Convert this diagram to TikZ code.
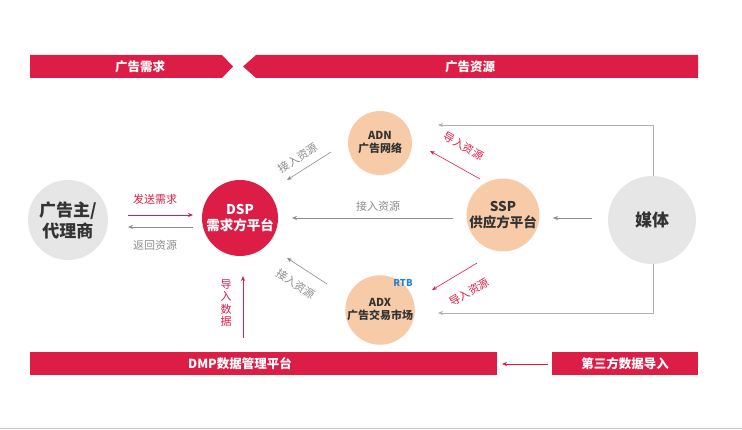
\documentclass[tikz,border=0pt]{standalone}
\usepackage{fontspec}
\setmainfont{Noto Sans CJK SC}
\usetikzlibrary{arrows.meta}
\definecolor{crim}{HTML}{DC1E46}
\definecolor{peach}{HTML}{F8CBA8}
\definecolor{lgray}{HTML}{E6E6E6}
\definecolor{agray}{HTML}{8C8C8C}
\definecolor{dtext}{HTML}{333333}
\begin{document}
\begin{tikzpicture}[x=1pt,y=-1pt,
  circ/.style={circle,inner sep=0pt,align=center,font=\bfseries\fontsize{13.5}{16}\selectfont,text=dtext},
  garr/.style={draw=agray,-{Stealth[length=5pt,width=4pt]},line width=0.6pt},
  rarr/.style={draw=crim,-{Stealth[length=5pt,width=4pt]},line width=0.6pt},
  glab/.style={text=agray,font=\fontsize{11}{12}\selectfont,inner sep=1pt},
  rlab/.style={text=crim,font=\fontsize{11}{12}\selectfont,inner sep=1pt},
  btxt/.style={text=white,font=\bfseries\fontsize{12.5}{14}\selectfont}]
\useasboundingbox (0,0) rectangle (742,430);
\fill[white] (0,0) rectangle (742,430);
\draw[lgray!70!gray,line width=0.6pt] (0,428) -- (742,428);
% banners
\fill[crim] (30,55) -- (222,55) -- (233,66.5) -- (222,78) -- (30,78) -- cycle;
\node[btxt] (bl) at (140,66.5) {广告需求};
\fill[crim] (243,66.5) -- (256,55) -- (698,55) -- (698,78) -- (256,78) -- cycle;
\node[btxt] (br) at (470,66.5) {广告资源};
% circles
\node[circ,fill=lgray,minimum size=80pt,font=\bfseries\fontsize{17}{21}\selectfont] (adv) at (68,220) {广告主/\\代理商};
\node[circ,fill=crim,text=white,minimum size=76pt] (dsp) at (240,218) {DSP\\需求方平台};
\node[circ,fill=peach,minimum size=64pt,font=\bfseries\fontsize{11}{13}\selectfont] (adn) at (380,143) {ADN\\广告网络};
\node[circ,fill=peach,minimum size=66pt] (ssp) at (503,215) {SSP\\供应方平台};
\node[circ,fill=peach,minimum size=64pt,font=\bfseries\fontsize{11}{13}\selectfont] (adx) at (380,310) {ADX\\广告交易市场};
\node[circ,fill=lgray,minimum size=88pt,font=\bfseries\fontsize{17}{20}\selectfont] (media) at (652,220) {媒体};
\node[text=blue!50!cyan!70!gray,font=\bfseries\fontsize{9.5}{10}\selectfont] (rtb) at (403,283) {RTB};
% bottom bars
\fill[crim] (30,352) rectangle (497,375);
\node[btxt] (dmp) at (240,363.5) {DMP数据管理平台};
\fill[crim] (552,352) rectangle (698,375);
\node[btxt] (third) at (625,363.5) {第三方数据导入};
\coordinate (dmpR) at (502,364);
\coordinate (thL) at (548,364);
\draw[rarr] (thL) -- (dmpR);
% arrows adv-dsp
\coordinate (a1) at (128,215); \coordinate (a2) at (193,215);
\coordinate (a3) at (193,227); \coordinate (a4) at (128,227);
\draw[rarr] (a1) -- (a2);
\draw[garr] (a3) -- (a4);
\node[rlab] (l1) at (155,199) {发送需求};
\node[glab] (l2) at (155,245) {返回资源};
% to dsp
\coordinate (b1) at (331,152); \coordinate (b2) at (287,180);
\draw[garr] (b1) -- (b2);
\node[glab,rotate=33] (l3) at (298,158) {接入资源};
\coordinate (c1) at (453,218); \coordinate (c2) at (292,218);
\draw[garr] (c1) -- (c2);
\node[glab] (l4) at (378,206) {接入资源};
\coordinate (d1) at (327,284); \coordinate (d2) at (287,258);
\draw[garr] (d1) -- (d2);
\node[glab,rotate=-33] (l5) at (296,284) {接入资源};
% ssp to adn/adx
\coordinate (e1) at (480,179); \coordinate (e2) at (430,151);
\draw[rarr] (e1) -- (e2);
\node[rlab,rotate=-30] (l6) at (464,146) {导入资源};
\coordinate (f1) at (477,263); \coordinate (f2) at (432,290);
\draw[rarr] (f1) -- (f2);
\node[rlab,rotate=30] (l7) at (469,292) {导入资源};
% media
\coordinate (m1) at (653,176); \coordinate (m2) at (653,125); \coordinate (m3) at (438,125);
\draw[garr,draw=agray!70] (m1) -- (m2) -- (m3);
\coordinate (n1) at (653,264); \coordinate (n2) at (653,313); \coordinate (n3) at (438,313);
\draw[garr,draw=agray!70] (n1) -- (n2) -- (n3);
\coordinate (o1) at (592,218); \coordinate (o2) at (553,218);
\draw[garr] (o1) -- (o2);
% dmp to dsp
\coordinate (p1) at (243,338); \coordinate (p2) at (243,276);
\draw[rarr] (p1) -- (p2);
\node[rlab,align=center,font=\fontsize{11}{12.5}\selectfont] (l8) at (226,303) {导\\入\\数\\据};
\end{tikzpicture}
\end{document}
